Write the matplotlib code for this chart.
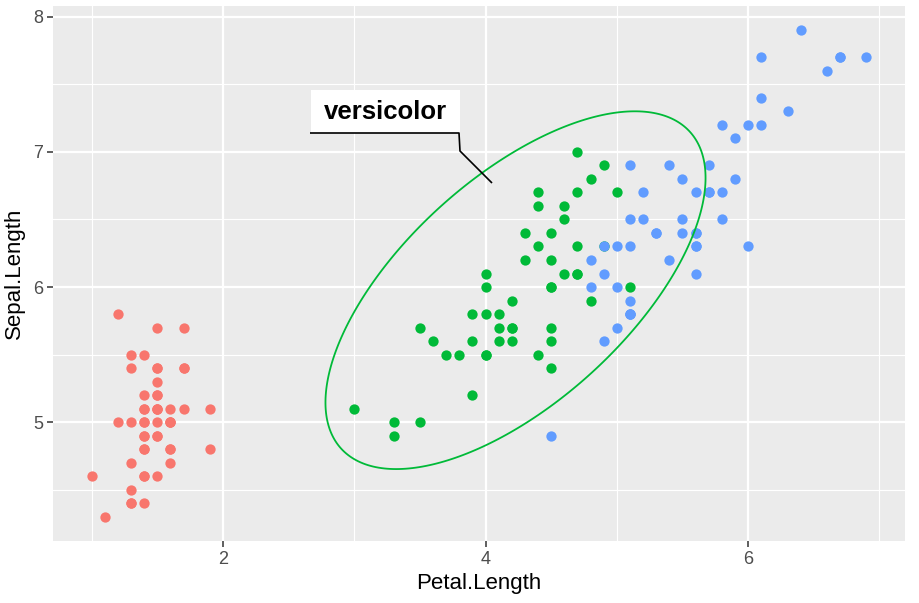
import numpy as np
import matplotlib
matplotlib.use("Agg")
import matplotlib.pyplot as plt
from matplotlib.patches import Rectangle, Polygon

# iris data
setosa_sl = [5.1,4.9,4.7,4.6,5.0,5.4,4.6,5.0,4.4,4.9,5.4,4.8,4.8,4.3,5.8,5.7,5.4,5.1,5.7,5.1,5.4,5.1,4.6,5.1,4.8,5.0,5.0,5.2,5.2,4.7,4.8,5.4,5.2,5.5,4.9,5.0,5.5,4.9,4.4,5.1,5.0,4.5,4.4,5.0,5.1,4.8,5.1,4.6,5.3,5.0]
setosa_pl = [1.4,1.4,1.3,1.5,1.4,1.7,1.4,1.5,1.4,1.5,1.5,1.6,1.4,1.1,1.2,1.5,1.3,1.4,1.7,1.5,1.7,1.5,1.0,1.7,1.9,1.6,1.6,1.5,1.4,1.6,1.6,1.5,1.5,1.4,1.5,1.2,1.3,1.4,1.3,1.5,1.3,1.3,1.3,1.6,1.9,1.4,1.6,1.4,1.5,1.4]
versicolor_sl = [7.0,6.4,6.9,5.5,6.5,5.7,6.3,4.9,6.6,5.2,5.0,5.9,6.0,6.1,5.6,6.7,5.6,5.8,6.2,5.6,5.9,6.1,6.3,6.1,6.4,6.6,6.8,6.7,6.0,5.7,5.5,5.5,5.8,6.0,5.4,6.0,6.7,6.3,5.6,5.5,5.5,6.1,5.8,5.0,5.6,5.7,5.7,6.2,5.1,5.7]
versicolor_pl = [4.7,4.5,4.9,4.0,4.6,4.5,4.7,3.3,4.6,3.9,3.5,4.2,4.0,4.7,3.6,4.4,4.5,4.1,4.5,3.9,4.8,4.0,4.9,4.7,4.3,4.4,4.8,5.0,4.5,3.5,3.8,3.7,3.9,5.1,4.5,4.5,4.7,4.4,4.1,4.0,4.4,4.6,4.0,3.3,4.2,4.2,4.2,4.3,3.0,4.1]
virginica_sl = [6.3,5.8,7.1,6.3,6.5,7.6,4.9,7.3,6.7,7.2,6.5,6.4,6.8,5.7,5.8,6.4,6.5,7.7,7.7,6.0,6.9,5.6,7.7,6.3,6.7,7.2,6.2,6.1,6.4,7.2,7.4,7.9,6.4,6.3,6.1,7.7,6.3,6.4,6.0,6.9,6.7,6.9,5.8,6.8,6.7,6.7,6.3,6.5,6.2,5.9]
virginica_pl = [6.0,5.1,5.9,5.6,5.8,6.6,4.5,6.3,5.8,6.1,5.1,5.3,5.5,5.0,5.1,5.3,5.5,6.7,6.9,5.0,5.7,4.9,6.7,4.9,5.7,6.0,4.8,4.9,5.6,5.8,6.1,6.4,5.6,5.1,5.6,6.1,5.6,5.5,4.8,5.4,5.6,5.1,5.1,5.9,5.7,5.2,5.0,5.2,5.4,5.1]

species = ["setosa", "versicolor", "virginica"]
colors = ["#F8766D", "#00BA38", "#619CFF"]
x_ticks = [2, 4, 6]
y_ticks = [5, 6, 7, 8]
label_text = "versicolor"

W, H = 919, 603
fig = plt.figure(figsize=(W/100, H/100), dpi=100)
ax = fig.add_axes([53/W, 1-541/H, (905-53)/W, (541-6)/H])
ax.set_facecolor("#EBEBEB")

allx = setosa_pl + versicolor_pl + virginica_pl
ally = setosa_sl + versicolor_sl + virginica_sl
xr = max(allx) - min(allx); yr = max(ally) - min(ally)
ax.set_xlim(min(allx) - 0.05*xr, max(allx) + 0.05*xr)
ax.set_ylim(min(ally) - 0.05*yr, max(ally) + 0.05*yr)

ax.set_xticks(x_ticks)
ax.set_yticks(y_ticks)
ax.set_xticks([1, 3, 5, 7], minor=True)
ax.set_yticks([4.5, 5.5, 6.5, 7.5], minor=True)
ax.grid(which="major", color="white", lw=1.6, zorder=0)
ax.grid(which="minor", color="white", lw=0.8, zorder=0)
ax.set_axisbelow(True)
for s in ax.spines.values():
    s.set_visible(False)
ax.tick_params(which="major", length=4, width=1.1, color="#333333", labelsize=13,
               labelcolor="#4D4D4D", pad=3)
ax.tick_params(which="minor", length=0)
for lab in ax.get_xticklabels() + ax.get_yticklabels():
    lab.set_family("Liberation Sans")
ax.set_xlabel("Petal.Length", fontsize=16, family="Liberation Sans", labelpad=4)
ax.set_ylabel("Sepal.Length", fontsize=16, family="Liberation Sans", labelpad=6)

data = [(setosa_pl, setosa_sl), (versicolor_pl, versicolor_sl), (virginica_pl, virginica_sl)]
for (px, py), c in zip(data, colors):
    ax.scatter(px, py, s=55, color=c, linewidths=0, zorder=3)

# minimum enclosing ellipse (Khachiyan) in display space, expanded
def mvee(P, tol=1e-5):
    N, d = P.shape
    Q = np.vstack([P.T, np.ones(N)])
    u = np.ones(N) / N
    err = 1
    while err > tol:
        X = Q @ np.diag(u) @ Q.T
        M = np.einsum('ij,ji->i', Q.T @ np.linalg.inv(X), Q)
        j = np.argmax(M)
        step = (M[j] - d - 1) / ((d + 1) * (M[j] - 1))
        nu = (1 - step) * u
        nu[j] += step
        err = np.linalg.norm(nu - u)
        u = nu
    c = P.T @ u
    A = np.linalg.inv(P.T @ np.diag(u) @ P - np.outer(c, c)) / d
    return c, A

fig.canvas.draw()
pts = ax.transData.transform(np.column_stack([versicolor_pl, versicolor_sl]))
pts = np.unique(pts, axis=0)
c, A = mvee(pts)
evals, evecs = np.linalg.eigh(A)
axes_len = 1 / np.sqrt(evals) + 30.0
t = np.linspace(0, 2*np.pi, 300)
circ = np.vstack([axes_len[0]*np.cos(t), axes_len[1]*np.sin(t)])
ell = (evecs @ circ).T + c
ell_data = ax.transData.inverted().transform(ell)
ax.add_patch(Polygon(ell_data, closed=True, fill=False, edgecolor=colors[1], lw=1.3, zorder=4))

# label box and connector (pixel -> data)
inv = ax.transData.inverted()
def pix(x, y):
    return inv.transform((x, H - y))
b0 = pix(311, 133); b1 = pix(460, 90)
ax.add_patch(Rectangle(b0, b1[0]-b0[0], b1[1]-b0[1], facecolor="white", edgecolor="none", zorder=5))
mid = pix(385.5, 112)
ax.text(mid[0], mid[1], label_text, ha="center", va="center", fontsize=18.5, fontweight="bold",
        family="Liberation Sans", zorder=6)
path = np.array([pix(310, 133), pix(459, 133), pix(460, 151), pix(492, 183)])
ax.plot(path[:, 0], path[:, 1], color="black", lw=1.2, zorder=6, solid_capstyle="butt")

fig.savefig("out.png", dpi=100)
